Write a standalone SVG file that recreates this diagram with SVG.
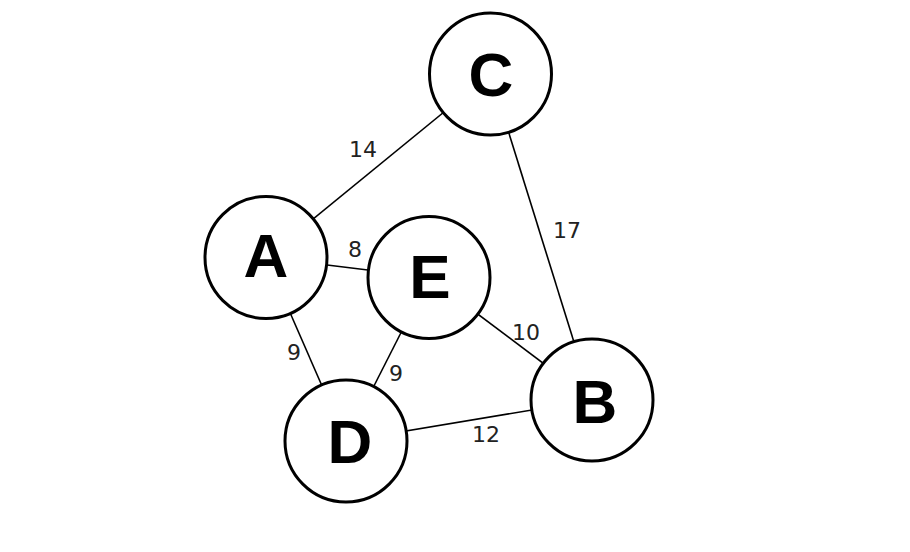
<svg xmlns="http://www.w3.org/2000/svg" width="910" height="552" viewBox="0 0 910 552">
<style>
.node circle{fill:#fff;stroke:#000;stroke-width:3}
.node text{font-family:"Liberation Sans",Arial,sans-serif;font-weight:bold;font-size:62px;text-anchor:middle;fill:#000}
.edges line{stroke:#000;stroke-width:1.6}
.edges text{font-family:"DejaVu Sans",sans-serif;font-size:22px;text-anchor:middle;fill:#222}
</style>
<rect width="910" height="552" fill="#fff"/>
<g class="edges" id="edges">
<line x1="266" y1="257.5" x2="490.5" y2="74"/>
<line x1="490.5" y1="74" x2="592" y2="400"/>
<line x1="266" y1="257.5" x2="429" y2="277.5"/>
<line x1="266" y1="257.5" x2="346" y2="441"/>
<line x1="429" y1="277.5" x2="346" y2="441"/>
<line x1="429" y1="277.5" x2="592" y2="400"/>
<line x1="346" y1="441" x2="592" y2="400"/>
<text x="363" y="156.5">14</text>
<text x="567" y="238">17</text>
<text x="355" y="257">8</text>
<text x="294" y="360">9</text>
<text x="396" y="380.5">9</text>
<text x="526" y="340">10</text>
<text x="486" y="441.5">12</text>
</g>
<g class="node" id="node-C"><circle cx="490.5" cy="74" r="61"/><text x="491" y="96">C</text></g>
<g class="node" id="node-A"><circle cx="266" cy="257.5" r="61"/><text x="266" y="277">A</text></g>
<g class="node" id="node-E"><circle cx="429" cy="277.5" r="61"/><text x="430" y="298">E</text></g>
<g class="node" id="node-D"><circle cx="346" cy="441" r="61"/><text x="350" y="463">D</text></g>
<g class="node" id="node-B"><circle cx="592" cy="400" r="61"/><text x="595" y="422.5">B</text></g>
</svg>
